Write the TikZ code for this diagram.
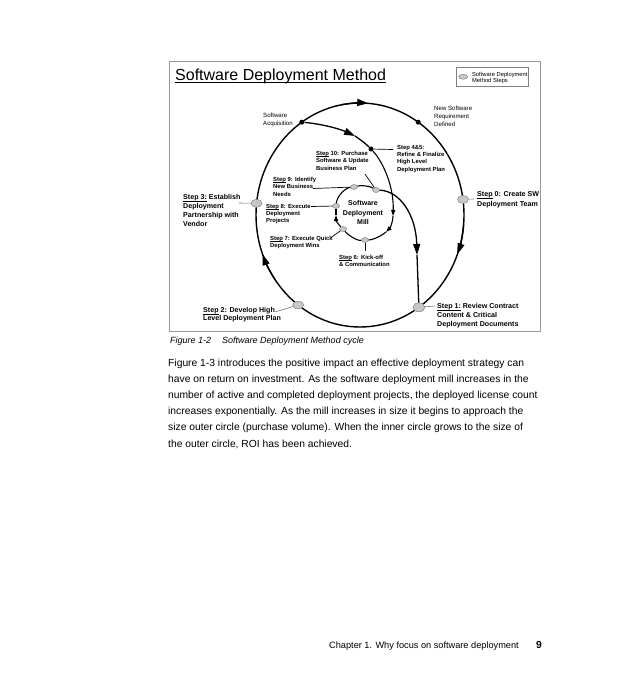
\documentclass[tikz,border=0pt]{standalone}
\usepackage{fontspec}
\setmainfont{Liberation Sans}
\usetikzlibrary{arrows.meta,shapes.geometric,calc,positioning}
\setlength{\lineskiplimit}{-\maxdimen}
\newcommand{\stepul}[1]{\underline{\smash{#1}}}
\tikzstyle{stepmark} = [ellipse,fill=black!22,draw=black!55,line width=0.4pt,minimum width=11pt,minimum height=8pt,inner sep=0pt]
\tikzstyle{millmark} = [stepmark,minimum width=7pt,minimum height=5pt]
\tikzstyle{blackdot} = [circle,fill=black,inner sep=0pt,minimum size=5pt]
\tikzstyle{bigtip} = [-{Triangle[length=11pt,width=7pt]}]
\tikzstyle{smalltip} = [-{Triangle[length=6pt,width=4pt]}]
\tikzstyle{cycleline} = [line width=1.4pt]
\tikzstyle{spiralline} = [line width=1.3pt]
\tikzstyle{millline} = [line width=1.1pt]
\tikzstyle{leader} = [draw=black!55,line width=0.6pt]
\tikzstyle{darkleader} = [draw=black,line width=0.7pt]
\tikzstyle{steptext} = [font=\fontsize{7.1}{9}\selectfont\bfseries,align=left,inner sep=0pt,anchor=north west]
\tikzstyle{smalltext} = [font=\fontsize{5.9}{7.4}\selectfont\bfseries,align=left,inner sep=0pt,anchor=north west]
\tikzstyle{plaintext} = [font=\fontsize{6.1}{8}\selectfont,align=left,inner sep=0pt,anchor=north west]

\begin{document}
\begin{tikzpicture}[x=1pt,y=-1pt]
        \useasboundingbox (0,0) rectangle (638,676);
        \fill[white] (0,0) rectangle (638,676);
        \draw[draw=black!40,line width=1pt] (169,62) rectangle (540,331);

        \node[font=\fontsize{16}{19}\selectfont,inner sep=0pt,anchor=base west] (title) at (175,81) {Software Deployment Method};
        \draw[line width=0.9pt] ([yshift=-1.8pt]title.base west) -- ([yshift=-1.8pt]title.base east);

        \node[draw=black!50,line width=0.6pt,minimum width=72pt,minimum height=19pt,inner sep=0pt,anchor=north west] (legend) at (456,67) {};
        \node[stepmark,minimum width=9pt,minimum height=5pt,right=2.5pt of legend.west] (legmark) {};
        \node[plaintext,font=\fontsize{5.8}{6.5}\selectfont,anchor=west] (legtext) at ([xshift=4pt,yshift=-1pt]legmark.east) {Software Deployment\\Method Steps};

        \coordinate (hub) at (360,215);
        \draw[cycleline] (hub) ellipse [x radius=104pt,y radius=112pt];
        \draw[cycleline,bigtip] ($(hub)+(100:104pt and 112pt)$) arc[start angle=100,end angle=85.5,x radius=104pt,y radius=112pt];
        \draw[cycleline,bigtip] ($(hub)+(-5:104pt and 112pt)$) arc[start angle=-5,end angle=-20.5,x radius=104pt,y radius=112pt];
        \draw[cycleline,bigtip] ($(hub)+(215:104pt and 112pt)$) arc[start angle=215,end angle=200.5,x radius=104pt,y radius=112pt];

        \node[stepmark] (s0) at ($(hub)+(8:104pt and 112pt)$) {};
        \node[blackdot] (newreq) at ($(hub)+(56:104pt and 112pt)$) {};
        \node[blackdot] (acq) at ($(hub)+(124:104pt and 112pt)$) {};
        \node[stepmark] (s3) at ($(hub)+(174:104pt and 112pt)$) {};
        \node[stepmark] (s2) at ($(hub)+(233.5:104pt and 112pt)$) {};
        \node[stepmark,minimum width=12pt,minimum height=9pt] (s1) at ($(hub)+(304.5:104pt and 112pt)$) {};

        \node[blackdot] (s45) at (371,149) {};
        \node[millmark] (s6) at (365,240) {};
        \node[millmark] (s7) at (343,229) {};
        \node[millmark] (s8) at (336,206) {};
        \node[millmark] (s9) at (354,187) {};
        \node[millmark] (s10) at (376,190) {};

        \coordinate (tipA) at (355,136);
        \coordinate (mr) at (393,216);
        \coordinate (mr2) at (386,232);
        \coordinate (tip7) at (336,215);
        \coordinate (tipB) at (417,255);

        \draw[spiralline,bigtip] (acq) .. controls (322,124) and (340,129) .. (tipA);
        \draw[spiralline] (tipA) .. controls (361,140) and (366,144) .. (s45);
        \draw[millline,smalltip] (s45) .. controls (384,163) and (394,188) .. (mr);
        \draw[millline,smalltip] (mr) .. controls (393,222) and (390,228) .. (mr2);
        \draw[millline] (mr2) .. controls (380,237) and (372,240) .. (s6);
        \draw[millline] (s6) .. controls (357,241) and (348,235) .. (s7);
        \draw[millline,smalltip] (s7) .. controls (339,225) and (336,221) .. (tip7);
        \draw[millline] (tip7) -- (s8);
        \draw[millline] (s8) .. controls (337,196) and (345,188) .. (s9);
        \draw[millline] (s9) .. controls (361,185) and (370,186) .. (s10);
        \draw[spiralline,bigtip] (s10) .. controls (400,191) and (416,215) .. (tipB);
        \draw[spiralline] (tipB) -- (s1);

        \node[font=\fontsize{7}{9.5}\selectfont\bfseries,align=center,inner sep=0pt] (mill) at (363,212.5) {Software\\Deployment\\Mill};

        \node[plaintext] (acqtext) at (263,112.7) {Software\\Acquisition};
        \node[plaintext] (reqtext) at (434,105.7) {New Software\\Requirement\\Defined};
        \node[smalltext] (l45) at (397,144.8) {Step 4\&5:\\Refine \& Finalize\\High Level\\Deployment Plan};
        \node[smalltext] (l10) at (316,150.8) {\stepul{Step} 10: Purchase\\Software \& Update\\Business Plan};
        \node[smalltext] (l9) at (273,176.8) {\stepul{Step} 9: Identify\\New Business\\Needs};
        \node[smalltext] (l8) at (266,203.8) {\stepul{Step} 8: Execute\\Deployment\\Projects};
        \node[smalltext] (l7) at (270,235.8) {\stepul{Step} 7: Execute Quick\\Deployment Wins};
        \node[smalltext] (l6) at (339,254.8) {\stepul{Step} 6: Kick-off\\ \& Communication};
        \node[steptext] (l3) at (183,194.4) {\stepul{Step 3:} Establish\\Deployment\\Partnership with\\Vendor};
        \node[steptext,font=\fontsize{7.1}{10}\selectfont\bfseries] (l0) at (477,191.7) {\stepul{Step} 0: Create SW\\Deployment Team};
        \node[steptext] (l1) at (437,303.1) {\stepul{Step 1:} Review Contract\\Content \& Critical\\Deployment Documents};
        \node[steptext,font=\fontsize{7.1}{8}\selectfont\bfseries] (l2) at (203,307.4) {\stepul{Step} 2: Develop High\\Level Deployment Plan};

        \coordinate (t45) at (393,149.5);
        \coordinate (t10) at (365,174);
        \coordinate (t9) at (313,188.5);
        \coordinate (t8) at (311,206.5);
        \coordinate (t7) at (331,237.5);
        \coordinate (t6) at (365,251);
        \coordinate (t3) at (239,203);
        \coordinate (t0) at (474,199);
        \coordinate (t1) at (435,306);
        \coordinate (t2) at (275,312);

        \draw[darkleader] (s45) -- (t45);
        \draw[darkleader] (s10) -- (t10);
        \draw[darkleader] (s9) -- (t9);
        \draw[darkleader] (s8) -- (t8);
        \draw[darkleader] (s7) -- (t7);
        \draw[darkleader] (s6) -- (t6);
        \draw[leader] (s3) -- (t3);
        \draw[leader] (s0) -- (t0);
        \draw[leader] (s1) -- (t1);
        \draw[leader] (s2) -- (t2);

        \node[font=\fontsize{9}{11}\selectfont\itshape,inner sep=0pt,anchor=base west] (caption) at (170,343) {Figure 1-2\hspace{11pt}Software Deployment Method cycle};

        \node[font=\fontsize{10.3}{16.2}\selectfont,align=left,inner sep=0pt,anchor=north west] (para) at (168,358.5) {Figure 1-3 introduces the positive impact an effective deployment strategy can\\have on return on investment. As the software deployment mill increases in the\\number of active and completed deployment projects, the deployed license count\\increases exponentially. As the mill increases in size it begins to approach the\\size outer circle (purchase volume). When the inner circle grows to the size of\\the outer circle, ROI has been achieved.};

        \node[font=\fontsize{9.2}{11}\selectfont,inner sep=0pt,anchor=base west] (chapter) at (329,648) {Chapter 1. Why focus on software deployment};
        \node[font=\fontsize{10.3}{12}\selectfont\bfseries,inner sep=0pt,anchor=base west] (pagenum) at (536,648) {9};
\end{tikzpicture}
\end{document}
